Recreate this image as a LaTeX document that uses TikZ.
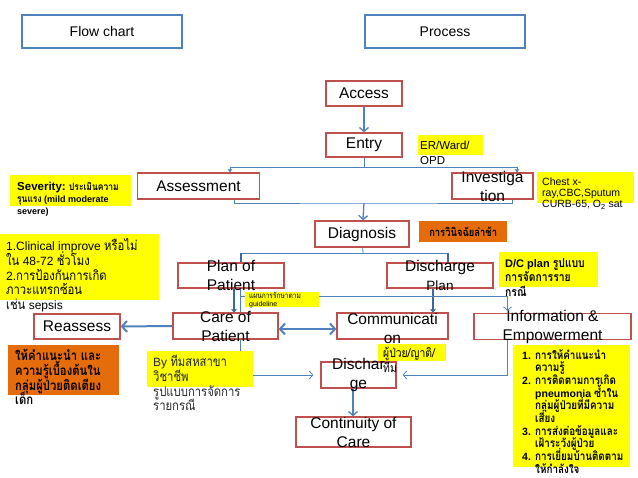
\documentclass[tikz,border=0pt]{standalone}
\usepackage{fontspec}
\setmainfont{Liberation Sans}
\newfontfamily\thf[Script=Thai,Scale=1.12,FakeStretch=0.84]{Loma}
\newcommand\tx[1]{{\thf #1}}
\newcommand\nols{\lineskiplimit-50pt\relax}
\usetikzlibrary{arrows.meta,backgrounds}
\definecolor{boxred}{HTML}{C0504D}
\definecolor{lineblue}{HTML}{4F81BD}
\definecolor{darkblue}{HTML}{3A68A0}
\definecolor{noteyellow}{HTML}{FFFF00}
\definecolor{noteorange}{HTML}{E46C0A}
\definecolor{greytext}{HTML}{262626}
\tikzset{
  pbox/.style={draw=boxred, line width=1.3pt, fill=white, inner sep=0pt},
  hbox/.style={draw=lineblue, line width=1.2pt, fill=white, inner sep=0pt, font=\fontsize{14}{16}\selectfont},
  btxt/.style={align=center, inner sep=0pt, font=\fontsize{15.5}{19}\selectfont},
  ynote/.style={fill=noteyellow, inner sep=0pt, anchor=north west},
  onote/.style={fill=noteorange, inner sep=0pt, anchor=north west},
  ntxt/.style={align=left, inner sep=0pt, anchor=north west},
  conn/.style={draw=lineblue, line width=0.8pt},
  arr/.style={draw=lineblue, line width=1.3pt, -{Straight Barb[length=4pt,width=9pt]}},
  thinarr/.style={conn, -{Straight Barb[length=3.5pt,width=8pt]}},
  bigarr/.style={draw=lineblue, line width=2pt, -{Straight Barb[length=5pt,width=11pt]}},
  dblarr/.style={draw=lineblue, line width=2pt, {Straight Barb[length=5pt,width=11pt]}-{Straight Barb[length=5pt,width=11pt]}},
  stub/.style={draw=darkblue, line width=2.5pt},
  stubarr/.style={draw=darkblue, line width=2.5pt, -{Triangle[length=3pt,width=6pt]}},
  smallarr/.style={conn, -{Triangle[length=3pt,width=4.5pt]}},
}
\begin{document}
\begin{tikzpicture}[x=1pt,y=-1pt]
\useasboundingbox (0,0) rectangle (638,478);

% headers
\node[hbox, minimum width=160pt, minimum height=33pt] (flow) at (102,31.5) {Flow chart};
\node[hbox, minimum width=160pt, minimum height=33pt] (proc) at (445,31.5) {Process};

% process boxes
\node[pbox, minimum width=76pt, minimum height=25pt] (access) at (364,93.5) {};
\node[pbox, minimum width=76pt, minimum height=24pt] (entry) at (364,145) {};
\node[pbox, minimum width=122pt, minimum height=26pt] (assess) at (198.5,186) {};
\node[pbox, minimum width=81pt, minimum height=26pt] (invest) at (492.5,186) {};
\node[pbox, minimum width=94pt, minimum height=26pt] (diag) at (362,234) {};
\node[pbox, minimum width=106pt, minimum height=25pt] (plan) at (231,275.5) {};
\node[pbox, minimum width=106pt, minimum height=25pt] (dplan) at (440,275.5) {};
\node[pbox, minimum width=86pt, minimum height=25pt] (reassess) at (77,326.5) {};
\node[pbox, minimum width=105pt, minimum height=26pt] (care) at (225.5,326) {};
\node[pbox, minimum width=111pt, minimum height=26pt] (comm) at (392.5,326) {};
\node[pbox, minimum width=157pt, minimum height=26pt] (info) at (552.5,326.5) {};
\node[pbox, minimum width=75pt, minimum height=26pt] (dis) at (358.5,375) {};
\node[pbox, minimum width=115pt, minimum height=30pt] (cont) at (353.5,432) {};

% box texts
\node[btxt] (accesst) at (access) {Access};
\node[btxt] (entryt) at (entry) {Entry};
\node[btxt] (assesst) at (assess) {Assessment};
\node[btxt] (investt) at (invest) {Investiga\\tion};
\node[btxt] (diagt) at (diag) {Diagnosis};
\node[btxt] (plant) at (plan) {Plan of\\Patient};
\node[btxt] (dplant) at (dplan) {Discharge\\{\fontsize{13.5}{16}\selectfont Plan}};
\node[btxt] (reassesst) at (reassess) {Reassess};
\node[btxt] (caret) at (care) {Care of\\Patient};
\node[btxt] (commt) at ([yshift=-2pt]comm.center) {Communicati\\on};
\node[btxt] (infot) at (info) {Information \&\\Empowerment};
\node[btxt] (dist) at (dis) {Dischar\\ge};
\node[btxt] (contt) at (cont) {Continuity of\\Care};

% connectors
\begin{scope}[on background layer]
\coordinate (j1) at (364,167);
\coordinate (j2) at (364,203);
\coordinate (j3) at (363,253);
\coordinate (j4) at (240,296);
\coordinate (aN) at ([xshift=31.5pt]assess.north);
\coordinate (vN) at ([xshift=24.5pt]invest.north);
\coordinate (aS) at ([xshift=35.5pt]assess.south);
\coordinate (vS) at ([xshift=19.5pt]invest.south);
\coordinate (pN) at ([xshift=10pt]plan.north);
\coordinate (dN) at ([xshift=8pt]dplan.north);
\coordinate (pS) at ([xshift=3pt]plan.south);
\coordinate (pS2) at ([xshift=9pt]plan.south);
\coordinate (dS) at ([xshift=-7pt]dplan.south);
\coordinate (iN) at ([xshift=-45pt]info.north);
\coordinate (iS) at ([xshift=-45pt]info.south);
\coordinate (xS) at ([xshift=-5.5pt]dis.south);
\draw[arr] (access) -- (entry);
\draw[conn] (entry) -- (j1);
\draw[conn] (aN |- j1) -- (vN |- j1);
\draw[smallarr] (aN |- j1) -- (aN);
\draw[smallarr] (vN |- j1) -- (vN);
\draw[conn] (aS) |- (j2) -| (vS);
\draw[arr] (j2) -- (diag);
\draw[conn] (diag) -- (j3);
\draw[conn] (pN |- j3) -- (dN |- j3);
\draw[stub] (pN |- j3) -- (pN);
\draw[stub] (dN |- j3) -- (dN);
\draw[stubarr] (pS) -- (pS |- care.north);
\draw[stubarr] (dS) -- (dS |- comm.north);
\draw[bigarr] (care.west) -- (reassess.east);
\draw[dblarr] ([yshift=-3pt]care.east) -- ([yshift=-3pt]comm.west);
\draw[conn] (pS2) -- (j4);
\draw[thinarr, shorten >=7pt] (j4) |- (dis.west);
\draw[thinarr, shorten >=2pt] (j4) -| (iN);
\draw[thinarr, shorten >=6pt] (iS) |- (dis.east);
\draw[arr] (xS) -- (xS |- cont.north);
\end{scope}

% notes
\node[ynote, minimum width=65pt, minimum height=20pt] (ero) at (418,135) {};
\node[ntxt, font=\fontsize{11.5}{15}\selectfont] (erot) at (420,135.5) {\rule{0pt}{14pt}ER/Ward/\\OPD};

\node[ynote, minimum width=121pt, minimum height=31pt] (sev) at (10,175) {};
\node[ntxt, font=\fontsize{9}{12}\selectfont\bfseries\nols] (sevt) at (17,176) {\rule{0pt}{14pt}{\fontsize{11.5}{12}\selectfont Severity:} \tx{ประเมินความ}\\\tx{รุนแรง} (mild moderate\\severe)};

\node[ynote, minimum width=97pt, minimum height=31pt] (chest) at (537,172) {};
\node[ntxt, font=\fontsize{10.5}{11}\selectfont\nols] (chestt) at (542,173.6) {\rule{0pt}{12pt}Chest x-\\ray,CBC,Sputum\\CURB-65, O\textsubscript{2} sat};

\node[onote, minimum width=88pt, minimum height=21pt] (dlay) at (419,221) {};
\node[inner sep=0pt, font=\fontsize{10}{12}\selectfont\thf\bfseries] (dlayt) at (dlay) {การวินิจฉัยล่าช้า};

\node[ynote, minimum width=159pt, minimum height=66pt] (clin) at (0,234) {};
\node[ntxt, font=\fontsize{12}{14.7}\selectfont\nols] (clint) at (6,235.5) {\rule{0pt}{15pt}1.Clinical improve \tx{หรือไม่}\\\tx{ใน} 48-72 \tx{ชั่วโมง}\\2.\tx{การป้องกันการเกิด}\\\tx{ภาวะแทรกซ้อน}\\\tx{เช่น} sepsis};

\node[ynote, minimum width=99pt, minimum height=35pt] (dcp) at (499,252) {};
\node[ntxt, font=\fontsize{11}{14.5}\selectfont\bfseries\nols] (dcpt) at (505,254) {\rule{0pt}{13pt}D/C plan \tx{รูปแบบ}\\\tx{การจัดการราย}\\\tx{กรณี}};

\node[ynote, minimum width=74pt, minimum height=15pt] (guide) at (245,292) {};
\node[ntxt, font=\fontsize{7}{8}\selectfont\nols] (guidet) at (249,290.5) {\rule{0pt}{8pt}\tx{แผนการรักษาตาม}\\guideline};

\node[onote, minimum width=111pt, minimum height=50pt] (orl) at (8,345) {};
\node[ntxt, font=\fontsize{12}{14.7}\selectfont\bfseries\nols] (orlt) at (15,345.5) {\rule{0pt}{15pt}\tx{ให้คำแนะนำ และ}\\\tx{ความรู้เบื้องต้นใน}\\\tx{กลุ่มผู้ป่วยติดเตียง}\\\tx{เด็ก}};

\node[ynote, minimum width=106pt, minimum height=36pt] (by) at (147,351) {};
\node[ntxt, text=greytext, font=\fontsize{12}{14.7}\selectfont\nols] (byt) at (153,351.5) {\rule{0pt}{15pt}By \tx{ทีมสหสาขา}\\\tx{วิชาชีพ}\\\tx{รูปแบบการจัดการ}\\\tx{รายกรณี}};

\node[ynote, minimum width=68pt, minimum height=17pt] (pat) at (378,344) {};
\node[ntxt, font=\fontsize{11}{15}\selectfont\nols] (patt) at (383,344) {\rule{0pt}{13pt}\tx{ผู้ป่วย/ญาติ/}\\\tx{ทีม}};

\node[ynote, minimum width=117pt, minimum height=122pt] (list) at (513,345) {};
\node[ntxt, font=\fontsize{10.5}{12.7}\selectfont\bfseries\nols] (listt) at (522,345.8) {\rule{0pt}{13pt}\makebox[13pt][l]{1.}\tx{การให้คำแนะนำ}\\
\hspace*{13pt}\tx{ความรู้}\\
\makebox[13pt][l]{2.}\tx{การติดตามการเกิด}\\
\hspace*{13pt}pneumonia \tx{ซ้ำใน}\\
\hspace*{13pt}\tx{กลุ่มผู้ป่วยที่มีความ}\\
\hspace*{13pt}\tx{เสี่ยง}\\
\makebox[13pt][l]{3.}\tx{การส่งต่อข้อมูลและ}\\
\hspace*{13pt}\tx{เฝ้าระวังผู้ป่วย}\\
\makebox[13pt][l]{4.}\tx{การเยี่ยมบ้านติดตาม}\\
\hspace*{13pt}\tx{ให้กำลังใจ}};
\end{tikzpicture}
\end{document}
